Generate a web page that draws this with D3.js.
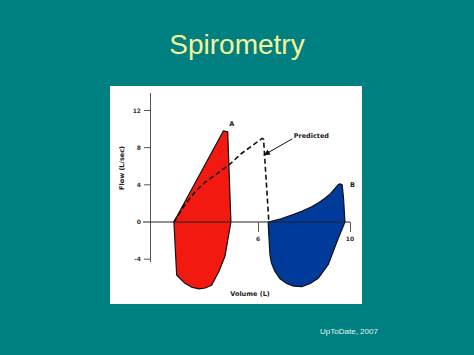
<!DOCTYPE html>
<html>
<head>
<meta charset="utf-8">
<script src="https://cdn.jsdelivr.net/npm/d3@7"></script>
<style>
  body { margin: 0; background: #008080; }
  svg { display: block; }
</style>
</head>
<body>
<script>
// patient A (restrictive) loop, volume (L) / flow (L/sec)
var loopA = [
  [2.34, 0], [4.49, 9.8], [4.68, 9.7], [4.82, 0], [4.56, -3.7],
  [4.3, -5.3], [3.98, -6.8], [3.7, -7.1], [3.44, -7.2], [3.1, -7.0],
  [2.82, -6.6], [2.46, -5.7]
];
// patient B (obstructive) loop
var loopB = [
  [6.44, 0], [7.0, 0.35], [7.46, 0.75], [7.9, 1.15], [8.33, 1.65],
  [8.65, 2.1], [8.91, 2.55], [9.15, 3.05], [9.34, 3.6], [9.48, 4.0],
  [9.56, 4.1], [9.66, 4.0], [9.72, 2.5], [9.78, 0], [9.49, -1.75],
  [9.05, -4.6], [8.62, -6.05], [8.25, -6.65], [7.9, -6.95], [7.55, -6.9],
  [7.24, -6.6], [6.95, -6.1], [6.73, -5.3], [6.58, -4.4], [6.52, -3.55],
  [6.47, -1.5]
];
// predicted expiratory curve (dashed)
var predicted = [
  [2.34, 0], [2.8, 1.8], [3.26, 3.26], [3.7, 4.3], [4.13, 5.05],
  [4.78, 6.24], [5.29, 7.4], [5.85, 8.4], [6.18, 9.0], [6.24, 8.9], [6.47, 0]
];
var yTicks = [12, 8, 4, 0, -4];
var xTicks = [6, 10];

var width = 474, height = 355;

var svg = d3.select("body").append("svg")
    .attr("width", width)
    .attr("height", height);

svg.append("text")
    .attr("x", 237).attr("y", 54)
    .attr("text-anchor", "middle")
    .style("font-family", "Liberation Sans, Arial, sans-serif")
    .style("font-size", "28px")
    .style("fill", "#f4f49a")
    .text("Spirometry");

svg.append("rect")
    .attr("x", 110).attr("y", 86)
    .attr("width", 252).attr("height", 218)
    .attr("fill", "#fff");

var x = d3.scaleLinear().domain([1.3, 10]).range([150, 350]);
var y = d3.scaleLinear().domain([0, 12]).range([222, 110.5]);

var line = d3.line()
    .x(function(d) { return x(d[0]); })
    .y(function(d) { return y(d[1]); });

svg.append("path")
    .attr("d", line(loopA) + "Z")
    .attr("fill", "#f21a10")
    .attr("stroke", "#111")
    .attr("stroke-width", 1.2)
    .attr("stroke-linejoin", "round");

svg.append("path")
    .attr("d", line(loopB) + "Z")
    .attr("fill", "#003a9a")
    .attr("stroke", "#111")
    .attr("stroke-width", 1.2)
    .attr("stroke-linejoin", "round");

svg.append("path")
    .attr("d", line(predicted))
    .attr("fill", "none")
    .attr("stroke", "#111")
    .attr("stroke-width", 1.6)
    .attr("stroke-dasharray", "5,3");

// axes
var font = "DejaVu Sans, Verdana, sans-serif";
var ax = svg.append("g").attr("stroke", "#555").attr("stroke-width", 1);
ax.append("line").attr("x1", 150.5).attr("x2", 150.5).attr("y1", 93).attr("y2", 262);
ax.append("line").attr("x1", 143).attr("x2", 350).attr("y1", y(0)).attr("y2", y(0)).attr("stroke", "#222");

yTicks.forEach(function(t) {
  if (t !== 0) {
    ax.append("line").attr("x1", 144).attr("x2", 150).attr("y1", y(t)).attr("y2", y(t));
  }
  svg.append("text")
      .attr("x", 141).attr("y", y(t)).attr("dy", "0.35em")
      .attr("text-anchor", "end")
      .style("font-family", font).style("font-size", "6px").style("font-weight", "bold")
      .style("fill", "#333")
      .text(t);
});
xTicks.forEach(function(t) {
  ax.append("line").attr("x1", x(t) + 0.5).attr("x2", x(t) + 0.5).attr("y1", y(0)).attr("y2", y(0) + 10);
  svg.append("text")
      .attr("x", x(t)).attr("y", y(0) + 19)
      .attr("text-anchor", "middle")
      .style("font-family", font).style("font-size", "6px").style("font-weight", "bold")
      .style("fill", "#333")
      .text(t);
});

svg.append("text")
    .attr("transform", "translate(124,168) rotate(-90)")
    .attr("text-anchor", "middle")
    .style("font-family", font).style("font-size", "6.5px").style("font-weight", "bold")
    .style("fill", "#222")
    .text("Flow (L/sec)");

svg.append("text")
    .attr("x", 250).attr("y", 296)
    .attr("text-anchor", "middle")
    .style("font-family", font).style("font-size", "6.5px").style("font-weight", "bold")
    .style("fill", "#222")
    .text("Volume (L)");

// labels
var lab = function(tx, ty, s, anchor) {
  svg.append("text")
      .attr("x", tx).attr("y", ty)
      .attr("text-anchor", anchor || "start")
      .style("font-family", font).style("font-size", "6.5px").style("font-weight", "bold")
      .style("fill", "#222")
      .text(s);
};
lab(x(4.75), y(10.3), "A");
lab(x(10.0), y(3.8), "B");
lab(x(7.55), y(9.0), "Predicted");

svg.append("defs").append("marker")
    .attr("id", "arr").attr("viewBox", "0 0 10 10")
    .attr("refX", 9).attr("refY", 5)
    .attr("markerWidth", 7).attr("markerHeight", 7)
    .attr("orient", "auto")
    .append("path").attr("d", "M0,1L10,5L0,9Z").attr("fill", "#111");

svg.append("line")
    .attr("x1", x(7.49)).attr("y1", y(8.95))
    .attr("x2", x(6.25)).attr("y2", y(7.2))
    .attr("stroke", "#111").attr("stroke-width", 1)
    .attr("marker-end", "url(#arr)");

svg.append("text")
    .attr("x", 349).attr("y", 334)
    .attr("text-anchor", "middle")
    .style("font-family", "Liberation Sans, Arial, sans-serif")
    .style("font-size", "8px")
    .style("fill", "#e8f4f0")
    .text("UpToDate, 2007");
</script>
</body>
</html>
